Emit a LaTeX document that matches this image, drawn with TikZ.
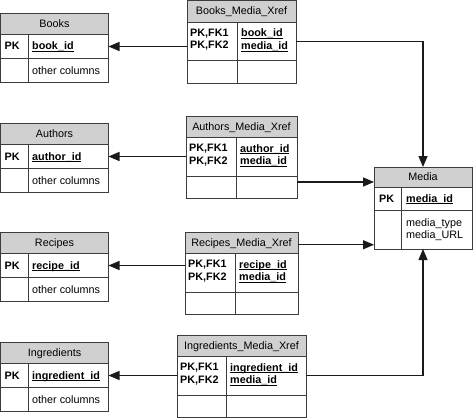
\documentclass[tikz,border=0pt]{standalone}
\usepackage{amsmath}
\usepackage{fontspec}
\setmainfont{Liberation Sans}
\usepackage{xcolor}
\usetikzlibrary{positioning}
\usetikzlibrary{arrows.meta}

\definecolor{headgray}{HTML}{D0D0D0}
\definecolor{edgegray}{HTML}{3C3C3C}
\definecolor{linkblack}{HTML}{1A1A1A}

% underlined key field
\newcommand{\keyfield}[1]{\textbf{\underline{\smash[b]{#1}}}}

% entity table: name, north west corner, title, key column
\newcommand{\entitytable}[4]{%
  \node[tblhead, minimum width=108pt, minimum height=21.5pt, anchor=north west] (#1) at (#2) {#3};
  \node[tblcell, minimum width=108pt, minimum height=24pt, below=0pt of #1] (#1-pk) {};
  \node[tblcell, minimum width=108pt, minimum height=24pt, below=0pt of #1-pk] (#1-other) {};
  \draw[tblline] ([xshift=27.5pt]#1-pk.north west) -- ([xshift=27.5pt]#1-other.south west);
  \node[celltext] (#1-pkl) at ([xshift=4pt,yshift=-3.5pt]#1-pk.west) {\textbf{PK}};
  \node[celltext] (#1-key) at ([xshift=31.5pt,yshift=-3.5pt]#1-pk.west) {\keyfield{#4}};
  \node[celltext] (#1-rest) at ([xshift=31.5pt,yshift=-4pt]#1-other.west) {other columns};
}

% cross reference table: name, north west corner, width, divider, title, first key
\newcommand{\xreftable}[6]{%
  \node[tblhead, minimum width=#3pt, minimum height=21.5pt, anchor=north west] (#1) at (#2) {#5};
  \node[tblcell, minimum width=#3pt, minimum height=38.5pt, below=0pt of #1] (#1-keys) {};
  \node[tblcell, minimum width=#3pt, minimum height=22.5pt, below=0pt of #1-keys] (#1-empty) {};
  \draw[tblline] ([xshift=#4pt]#1-keys.north west) -- ([xshift=#4pt]#1-empty.south west);
  \node[keytext] (#1-pkl) at ([xshift=3pt,yshift=-6.5pt]#1-keys.north west) {\textbf{PK,FK1}\\\textbf{PK,FK2}};
  \node[keytext] (#1-key) at ([xshift={#4pt+4pt},yshift=-6.5pt]#1-keys.north west) {\keyfield{#6}\\\keyfield{media\_id}};
}

\begin{document}
\begin{tikzpicture}[x=1pt, y=-1pt, font=\fontsize{10.8}{12}\selectfont]

    % Styles for the table parts
    \tikzstyle{tblcell} = [draw=edgegray, line width=0.8pt, inner sep=0pt, outer sep=0pt]
    \tikzstyle{tblhead} = [tblcell, fill=headgray, text height=8pt, text depth=1pt]
    \tikzstyle{tblline} = [draw=edgegray, line width=0.8pt]
    \tikzstyle{celltext} = [inner sep=0pt, anchor=base west]
    \tikzstyle{keytext} = [celltext, anchor=north west, align=left, font=\fontsize{10.8}{12.8}\selectfont]
    \tikzstyle{link} = [draw=linkblack, line width=1.3pt]
    \tikzstyle{arrowto} = [-{Triangle[length=11pt,width=9pt]}]

    \useasboundingbox (0,0) rectangle (474,420);

    % Entity tables
    \entitytable{books}{0.5,13}{Books}{book\_id}
    \entitytable{authors}{0.5,123}{Authors}{author\_id}
    \entitytable{recipes}{0.5,232}{Recipes}{recipe\_id}
    \entitytable{ingredients}{0.5,342}{Ingredients}{ingredient\_id}

    % Cross reference tables
    \xreftable{booksx}{187,0.5}{109}{50}{Books\_Media\_Xref}{book\_id}
    \xreftable{authorsx}{186,116}{111}{50}{Authors\_Media\_Xref}{author\_id}
    \xreftable{recipesx}{185,232}{113}{50}{Recipes\_Media\_Xref}{recipe\_id}
    \xreftable{ingredientsx}{177,335}{129}{49}{Ingredients\_Media\_Xref}{ingredient\_id}

    % Media table
    \node[tblhead, minimum width=98pt, minimum height=20pt, anchor=north west] (media) at (374,167) {Media};
    \node[tblcell, minimum width=98pt, minimum height=23pt, below=0pt of media] (media-pk) {};
    \node[tblcell, minimum width=98pt, minimum height=39pt, below=0pt of media-pk] (media-other) {};
    \draw[tblline] ([xshift=27pt]media-pk.north west) -- ([xshift=27pt]media-other.south west);
    \node[celltext] (media-pkl) at ([xshift=5pt,yshift=-3.5pt]media-pk.west) {\textbf{PK}};
    \node[celltext] (media-key) at ([xshift=32pt,yshift=-3.5pt]media-pk.west) {\keyfield{media\_id}};
    \node[celltext, anchor=west, align=left] (media-rest) at ([xshift=32pt]media-other.west) {media\_type\\media\_URL};
    \coordinate (media-in) at ([yshift=-5pt]media.west);

    % Links to the entity tables
    \draw[link, arrowto] (booksx-keys.west |- books-pk.east) -- (books-pk.east);
    \draw[link, arrowto] (authorsx-keys.west |- authors-pk.east) -- (authors-pk.east);
    \draw[link, arrowto] (recipesx-keys.west |- recipes-pk.east) -- (recipes-pk.east);
    \draw[link, arrowto] (ingredientsx-keys.west |- ingredients-pk.east) -- (ingredients-pk.east);

    % Links to media
    \draw[link, arrowto] (booksx-keys.east) -| (media.north);
    \draw[link, arrowto] (authorsx-empty.east |- media-in) -- (media-in);
    \draw[link, arrowto] ([yshift=-2pt]recipesx.east) -- ([yshift=-2pt]recipesx.east -| media-other.west);
    \draw[link, arrowto] (ingredientsx-keys.east) -| (media-other.south);

\end{tikzpicture}
\end{document}
